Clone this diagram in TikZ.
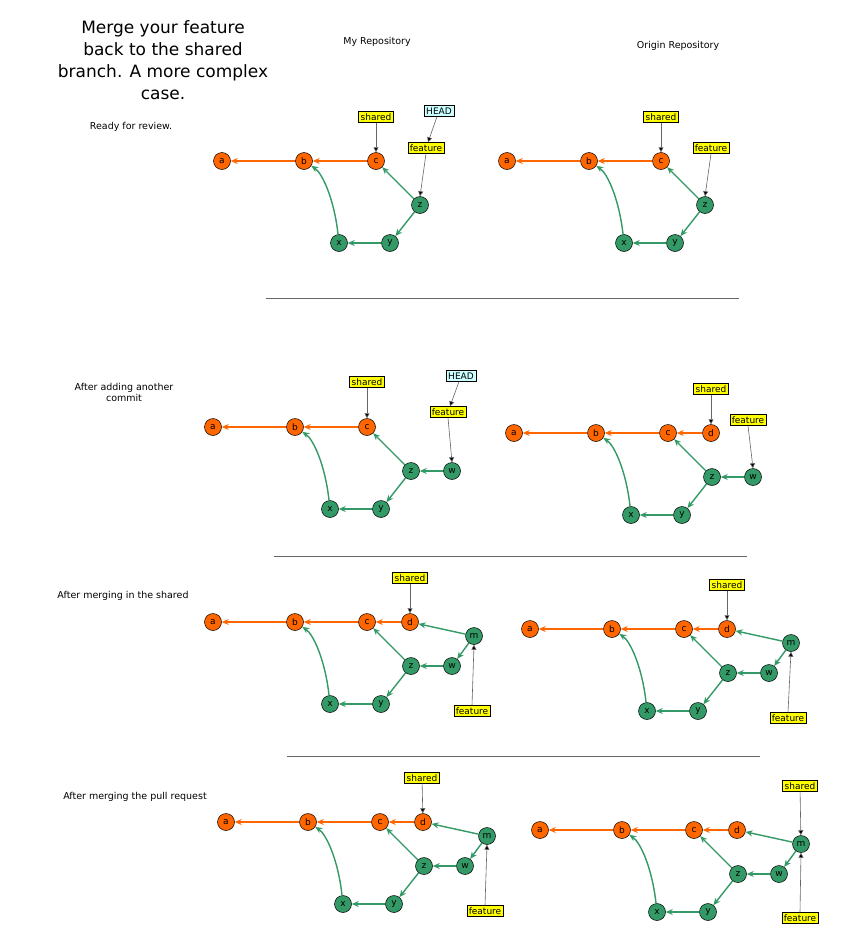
\documentclass[tikz,border=0pt]{standalone}
\usepackage{fontspec}
\setmainfont{DejaVu Sans}
\usetikzlibrary{arrows.meta}
\definecolor{org}{HTML}{FF6600}
\definecolor{grn}{HTML}{339966}
\definecolor{lbl}{HTML}{FFFF00}
\definecolor{hd}{HTML}{CCFFFF}
\tikzset{
  x=1pt,y=-1pt,
  cmt/.style={circle,draw=black,line width=0.5pt,minimum size=17pt,inner sep=0pt,font=\fontsize{9}{10}\selectfont},
  oc/.style={cmt,fill=org},
  gc/.style={cmt,fill=grn},
  lab/.style={draw=black,line width=0.5pt,fill=lbl,inner sep=2pt,font=\fontsize{9}{10}\selectfont},
  hlab/.style={lab,fill=hd},
  oarr/.style={draw=org,line width=1.4pt,-{Stealth[length=7pt,width=6pt]}},
  garr/.style={draw=grn,line width=1.4pt,-{Stealth[length=7pt,width=6pt]}},
  rarr/.style={draw=black!60,line width=0.6pt,-{Triangle[length=5pt,width=5pt,fill=black]}},
  txt/.style={font=\fontsize{9.5}{11}\selectfont},
}
\newcommand\base[1]{%
  \node[oc] (#1a) at (0,0) {a};
  \node[oc] (#1b) at (82,0) {b};
  \node[oc] (#1c) at (154,0) {c};
  \node[gc] (#1z) at (198,44) {z};
  \node[gc] (#1y) at (168,82) {y};
  \node[gc] (#1x) at (117,82) {x};
  \draw[oarr] (#1b) -- (#1a);
  \draw[oarr] (#1c) -- (#1b);
  \draw[garr] (#1z) -- (#1c);
  \draw[garr] (#1z) -- (#1y);
  \draw[garr] (#1y) -- (#1x);
  \draw[garr] (#1x) .. controls +(-5,-45) and +(18,12) .. (#1b);
}
\newcommand\withw[1]{%
  \node[gc] (#1w) at (239,44) {w};
  \draw[garr] (#1w) -- (#1z);
}
\newcommand\withd[1]{%
  \node[oc] (#1d) at (197,0) {d};
  \draw[oarr] (#1d) -- (#1c);
}
\newcommand\withm[1]{%
  \node[gc] (#1m) at (261,14) {m};
  \draw[garr] (#1m) -- (#1d);
  \draw[garr] (#1m) -- (#1w);
}
\begin{document}
\begin{tikzpicture}
\useasboundingbox (0,0) rectangle (861,948);
\fill[white] (0,0) rectangle (861,948);
\node[align=center,font=\fontsize{17}{22}\selectfont] (title) at (163,60) {Merge your feature\\back to the shared\\branch. A more complex\\case.};
\node[txt] (t1) at (131,127) {Ready for review.};
\node[txt] (myr) at (377,42) {My Repository};
\node[txt] (orr) at (678,46) {Origin Repository};
\node[txt,align=center] (t2) at (124,392) {After adding another\\commit};
\node[txt] (t3) at (123,596) {After merging in the shared};
\node[txt] (t4) at (135,797) {After merging the pull request};
\coordinate (l1a) at (266,298); \coordinate (l1b) at (739,298);
\coordinate (l2a) at (274,556); \coordinate (l2b) at (747,556);
\coordinate (l3a) at (287,756); \coordinate (l3b) at (760,756);
\draw[black!60,line width=0.6pt] (l1a) -- (l1b) (l2a) -- (l2b) (l3a) -- (l3b);
% D1 My
\begin{scope}[shift={(222,161)}]
\base{p}
\node[lab] (ps) at (154,-44) {shared};
\node[lab] (pf) at (204,-13) {feature};
\node[hlab] (ph) at (217,-50) {HEAD};
\draw[rarr] (ps) -- (pc);
\draw[rarr] (pf.south) -- (pz.north);
\draw[rarr] (ph) -- (pf);
\end{scope}
% D1 Origin
\begin{scope}[shift={(507,161)}]
\base{q}
\node[lab] (qs) at (154,-44) {shared};
\node[lab] (qf) at (204,-13) {feature};
\draw[rarr] (qs) -- (qc);
\draw[rarr] (qf.south) -- (qz.north);
\end{scope}
% D2 My
\begin{scope}[shift={(213,427)}]
\base{r}\withw{r}
\node[lab] (rs) at (154,-45) {shared};
\node[lab] (rf) at (235,-15) {feature};
\node[hlab] (rh) at (248,-51) {HEAD};
\draw[rarr] (rs) -- (rc);
\draw[rarr] (rf.south) -- (rw.north);
\draw[rarr] (rh) -- (rf);
\end{scope}
% D2 Origin
\begin{scope}[shift={(514,433)}]
\base{s}\withw{s}\withd{s}
\node[lab] (ss) at (197,-44) {shared};
\node[lab] (sf) at (234,-13) {feature};
\draw[rarr] (ss) -- (sd);
\draw[rarr] (sf.south) -- (sw.north);
\end{scope}
% D3 My
\begin{scope}[shift={(213,622)}]
\base{u}\withw{u}\withd{u}\withm{u}
\node[lab] (us) at (197,-44) {shared};
\node[lab] (uf) at (259,89) {feature};
\draw[rarr] (us) -- (ud);
\draw[rarr] (uf.north) -- (um.south);
\end{scope}
% D3 Origin
\begin{scope}[shift={(530,629)}]
\base{v}\withw{v}\withd{v}\withm{v}
\node[lab] (vs) at (197,-44) {shared};
\node[lab] (vf) at (258,89) {feature};
\draw[rarr] (vs) -- (vd);
\draw[rarr] (vf.north) -- (vm.south);
\end{scope}
% D4 My
\begin{scope}[shift={(226,822)}]
\base{e}\withw{e}\withd{e}\withm{e}
\node[lab] (es) at (196,-44) {shared};
\node[lab] (ef) at (259,89) {feature};
\draw[rarr] (es) -- (ed);
\draw[rarr] (ef.north) -- (em.south);
\end{scope}
% D4 Origin
\begin{scope}[shift={(540,830)}]
\base{f}\withw{f}\withd{f}\withm{f}
\node[lab] (fs) at (260,-44) {shared};
\node[lab] (ff) at (260,88) {feature};
\draw[rarr] (fs) -- (fm);
\draw[rarr] (ff.north) -- (fm.south);
\end{scope}
\end{tikzpicture}
\end{document}
